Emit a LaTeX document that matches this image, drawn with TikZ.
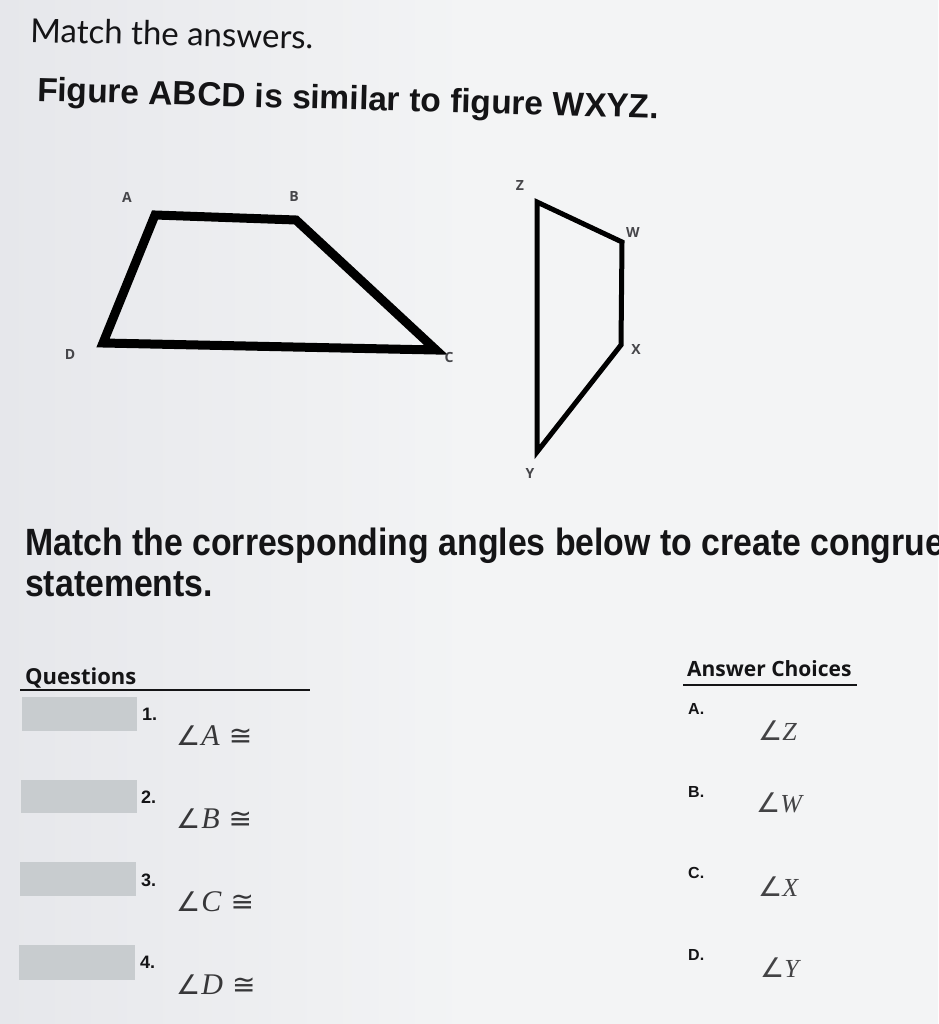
\documentclass[tikz,border=0pt]{standalone}
\usepackage{fontspec}
\newfontfamily\lato{Lato}
\newfontfamily\arial{Liberation Sans}
\newfontfamily\tnr{Liberation Serif}
\newfontfamily\osans{Open Sans}
\newfontfamily\dvsans{DejaVu Sans}
\definecolor{bg}{RGB}{230,231,235}
\definecolor{bgl}{RGB}{243,244,245}
\definecolor{boxg}{RGB}{200,204,207}
\definecolor{lblg}{RGB}{70,70,74}
\definecolor{ink}{RGB}{20,20,22}
\newcommand{\ang}{{\dvsans\fontsize{27}{27}\selectfont ∠}}
\newcommand{\cgr}{{\dvsans\fontsize{28}{28}\selectfont ≅}}
\tikzset{
  vlabel/.style={font=\osans\bfseries\fontsize{14}{14}\selectfont, text=lblg, inner sep=0pt},
  numtext/.style={font=\arial\bfseries\fontsize{18}{18}\selectfont, text=ink, anchor=base west, inner sep=0pt},
  angtext/.style={font=\tnr\fontsize{30}{30}\selectfont, text=ink!85, anchor=base west, inner sep=0pt},
  anstext/.style={font=\tnr\fontsize{26}{26}\selectfont, text=ink!80, anchor=base west, inner sep=0pt},
  headtext/.style={font=\osans\bfseries\fontsize{22}{22}\selectfont, text=ink, anchor=base west, inner sep=0pt},
  answerbox/.style={fill=boxg, draw=none},
  bigshape/.style={draw=black, line width=9pt, line join=miter},
  smallshape/.style={draw=black, line width=5pt, line join=miter},
}
\begin{document}
\begin{tikzpicture}[x=1pt,y=-1pt]
\useasboundingbox (0,0) rectangle (938,1024);
\clip (0,0) rectangle (938,1024);
\shade[left color=bg, right color=bgl, middle color=bgl] (0,0) rectangle (938,1024);

% titles
\node[font=\lato\fontsize{33}{33}\selectfont, text=ink, anchor=base west, inner sep=0pt, rotate=-1.4] (t1) at (30,42) {Match the answers.};
\node[font=\arial\bfseries\fontsize{33.5}{33.5}\selectfont, text=ink, anchor=base west, inner sep=0pt, rotate=-1.6] (t2) at (37,101) {Figure ABCD is similar to figure WXYZ.};

% trapezoid ABCD
\coordinate (A) at (155,215);
\coordinate (B) at (296,220);
\coordinate (C) at (436,350);
\coordinate (D) at (103,343);
\draw[bigshape] (A) -- (B) -- (C) -- (D) -- cycle;
\node[vlabel] (lA) at (127,197) {A};
\node[vlabel] (lB) at (294,197) {B};
\node[vlabel] (lC) at (449,357) {C};
\node[vlabel] (lD) at (70,355) {D};

% trapezoid WXYZ
\coordinate (Z) at (537,202);
\coordinate (W) at (622,242);
\coordinate (X) at (621,345);
\coordinate (Y) at (537,452);
\draw[smallshape] (Z) -- (W) -- (X) -- (Y) -- cycle;
\node[vlabel] (lZ) at (520,186) {Z};
\node[vlabel] (lW) at (633,233) {W};
\node[vlabel] (lX) at (636,350) {X};
\node[vlabel] (lY) at (530,473) {Y};

% instructions
\node[font=\arial\bfseries\fontsize{38}{38}\selectfont, text=ink, anchor=base west, inner sep=0pt, xscale=0.89] (t3) at (25,555) {Match the corresponding angles below to create congrue};
\node[font=\arial\bfseries\fontsize{38}{38}\selectfont, text=ink, anchor=base west, inner sep=0pt, xscale=0.89] (t4) at (25,596) {statements.};

% Questions column
\node[headtext] (qh) at (25,684) {Questions};
\draw[line width=1.6pt, ink] (20,690) -- (310,690);
\fill[answerbox] (22,697) rectangle (137,731);
\fill[answerbox] (21,780) rectangle (137,813);
\fill[answerbox] (20,862) rectangle (136,896);
\fill[answerbox] (19,945) rectangle (135,980);
\node[numtext] (q1) at (142,720) {1.};
\node[numtext] (q2) at (141,803) {2.};
\node[numtext] (q3) at (141,886) {3.};
\node[numtext] (q4) at (140,968) {4.};
\node[angtext] (a1) at (176,745) {\ang\hspace{1pt}\textit{A}\hspace{9pt}\cgr};
\node[angtext] (a2) at (176,828) {\ang\hspace{1pt}\textit{B}\hspace{9pt}\cgr};
\node[angtext] (a3) at (176,911) {\ang\hspace{1pt}\textit{C}\hspace{9pt}\cgr};
\node[angtext] (a4) at (176,994) {\ang\hspace{1pt}\textit{D}\hspace{9pt}\cgr};

% Answer choices column
\node[headtext, font=\osans\bfseries\fontsize{21}{21}\selectfont] (ah) at (687,676) {Answer Choices};
\draw[line width=1.6pt, ink] (683,685) -- (857,685);
\node[numtext, font=\arial\bfseries\fontsize{16}{16}\selectfont] (cA) at (688,714) {A.};
\node[numtext, font=\arial\bfseries\fontsize{16}{16}\selectfont] (cB) at (688,797) {B.};
\node[numtext, font=\arial\bfseries\fontsize{16}{16}\selectfont] (cC) at (688,878) {C.};
\node[numtext, font=\arial\bfseries\fontsize{16}{16}\selectfont] (cD) at (688,960) {D.};
\node[anstext] (zA) at (758,740) {\ang\textit{Z}};
\node[anstext] (zB) at (756,812) {\ang\textit{W}};
\node[anstext] (zC) at (758,896) {\ang\textit{X}};
\node[anstext] (zD) at (760,977) {\ang\textit{Y}};
\end{tikzpicture}
\end{document}
